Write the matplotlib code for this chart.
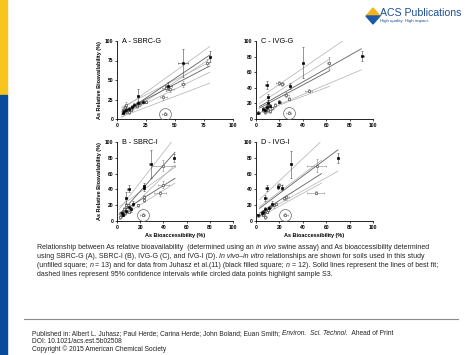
import matplotlib
matplotlib.use("Agg")
import matplotlib.pyplot as plt
from matplotlib.patches import Polygon, Rectangle

plt.rcParams['font.family'] = ['Liberation Sans', 'DejaVu Sans']

# ---- data ----
# panel A - SBRC-G
a_fill_x = [57, 80, 44, 18, 18, 22, 10, 5, 13, 8, 15, 6]
a_fill_y = [72, 80, 42, 30, 20, 22, 13, 8, 15, 12, 18, 10]
a_fill_xe = [4, 1, 3, 1, 2, 2, 1, 1, 1, 1, 1, 1]
a_fill_ye = [18, 7, 5, 8, 3, 2, 3, 2, 3, 4, 2, 2]
a_open_x = [42, 46, 57, 78, 40, 17, 7, 8, 12, 20, 5, 25, 10]
a_open_y = [40, 38, 45, 72, 28, 17, 15, 18, 12, 20, 12, 22, 9]
a_open_xe = [3, 3, 2, 1, 3, 1, 1, 1, 1, 1, 1, 1, 1]
a_open_ye = [4, 4, 4, 5, 3, 3, 3, 4, 2, 3, 3, 2, 2]
a_s3 = (41, 7)
a_fit_lines = [(4, 80, 6, 82), (4, 80, 9, 68)]
a_ci_lines = [(4, 80, 12, 93), (4, 80, 2, 77), (4, 80, 15, 73),
              (4, 80, 5, 60), (4, 80, 3, 46)]

# panel B - SBRC-I
b_fill_x = [29, 49, 23, 23, 10, 8, 14, 5, 8, 10, 12, 4]
b_fill_y = [72, 80, 44, 42, 41, 29, 22, 8, 13, 18, 15, 10]
b_fill_xe = [1, 1, 1, 1, 1, 1, 1, 1, 1, 1, 1, 1]
b_fill_ye = [18, 5, 4, 4, 4, 8, 3, 2, 3, 3, 3, 2]
b_open_x = [40, 40, 37, 23, 23, 6, 5, 8, 3, 4, 10, 18, 7]
b_open_y = [70, 46, 35, 30, 27, 15, 12, 20, 5, 8, 12, 20, 10]
b_open_xe = [10, 5, 5, 1, 1, 1, 1, 1, 1, 1, 1, 1, 1]
b_open_ye = [7, 4, 3, 3, 3, 3, 2, 3, 2, 2, 2, 2, 2]
b_s3 = (22, 8)
b_fit_lines = [(2, 50, 8, 87), (2, 50, 10, 54)]
b_ci_lines = [(2, 47, 15, 100), (2, 50, 2, 71), (2, 50, 18, 68),
              (2, 50, 4, 48)]

# panel C - IVG-G
c_fill_x = [40, 91, 29, 9, 10, 10, 20, 2, 8, 9, 12, 6]
c_fill_y = [72, 81, 42, 44, 28, 21, 22, 8, 12, 15, 17, 13]
c_fill_xe = [1, 1, 1, 1, 1, 1, 1, 1, 1, 1, 1, 1]
c_fill_ye = [20, 6, 4, 5, 4, 3, 2, 2, 3, 3, 2, 2]
c_open_x = [62, 20, 22, 45, 26, 14, 8, 10, 12, 16, 6, 9, 28]
c_open_y = [72, 46, 45, 36, 31, 14, 9, 12, 10, 18, 11, 16, 26]
c_open_xe = [1, 3, 2, 3, 2, 1, 1, 1, 1, 1, 1, 1, 1]
c_open_ye = [8, 3, 3, 2, 3, 2, 2, 3, 2, 3, 2, 2, 2]
c_s3 = (28, 8)
c_fit_lines = [(3, 90, 16, 90), (3, 63, 14, 62)]
c_ci_lines = [(3, 74, 27, 100), (3, 90, 8, 63), (3, 63, 20, 77),
              (3, 63, 8, 42)]

# panel D - IVG-I
d_fill_x = [30, 70, 19, 22, 9, 8, 2, 6, 8, 11, 14, 5]
d_fill_y = [72, 80, 43, 42, 42, 29, 7, 12, 15, 17, 22, 10]
d_fill_xe = [1, 1, 1, 1, 1, 1, 1, 1, 1, 1, 1, 1]
d_fill_ye = [17, 6, 3, 3, 4, 4, 2, 2, 3, 2, 3, 2]
d_open_x = [52, 51, 26, 20, 24, 15, 10, 7, 12, 9, 6, 17, 8]
d_open_y = [70, 36, 30, 45, 29, 20, 14, 10, 18, 12, 8, 22, 5]
d_open_xe = [8, 7, 2, 2, 1, 1, 1, 1, 1, 1, 1, 1, 1]
d_open_ye = [8, 2, 3, 3, 2, 3, 2, 2, 2, 2, 2, 2, 2]
d_s3 = (25, 8)
d_fit_lines = [(3, 70, 16, 90), (3, 56, 10, 60)]
d_ci_lines = [(3, 55, 27, 100), (3, 70, 8, 63), (3, 56, 18, 77),
              (3, 56, 5, 48)]

titles = ["A - SBRC-G", "B - SBRC-I", "C - IVG-G", "D - IVG-I"]
a_ticks = [0, 25, 50, 75, 100]
other_ticks = [0, 20, 40, 60, 80, 100]

# text runs: (text, italic?)
caption_lines = [
    [("Relationship between As relative bioavailability  (determined using an ", 0), ("in vivo", 1),
     (" swine assay) and As bioaccessibility determined", 0)],
    [("using SBRC-G (A), SBRC-I (B), IVG-G (C), and IVG-I (D). ", 0), ("In vivo–in vitro", 1),
     (" relationships are shown for soils used in this study", 0)],
    [("(unfilled square; ", 0), ("n", 1), (" = 13) and for data from Juhasz et al.(11) (black filled square; ", 0),
     ("n", 1), (" = 12). Solid lines represent the lines of best fit;", 0)],
    [("dashed lines represent 95% confidence intervals while circled data points highlight sample S3.", 0)],
]
cite_lines = [
    [("Published in: Albert L. Juhasz; Paul Herde; Carina Herde; John Boland; Euan Smith; ", 0),
     ("Environ.  Sci. Technol.", 1), ("  Ahead of Print", 0)],
    [("DOI: 10.1021/acs.est.5b02508", 0)],
    [("Copyright © 2015 American Chemical Society", 0)],
]

# ---- figure ----
W, H = 474, 355
fig = plt.figure(figsize=(W / 100, H / 100), dpi=100)
renderer = fig.canvas.get_renderer()


def px_axes(x0, y0, x1, y1):
    return fig.add_axes([x0 / W, 1 - y1 / H, (x1 - x0) / W, (y1 - y0) / H])


def draw_runs(x_px, y_px, runs, size):
    x = x_px
    for txt, ital in runs:
        t = fig.text(x / W, 1 - y_px / H, txt, fontsize=size, va="baseline", ha="left",
                     color="#222222", style="italic" if ital else "normal")
        x += t.get_window_extent(renderer).width


def draw_panel(ax, fx, fy, fxe, fye, ox, oy, oxe, oye, s3, fits, cis, ticks, title):
    for x0, x1, y0, y1 in cis:
        ax.plot([x0, x1], [y0, y1], color="#b0b0b0", lw=0.5, zorder=1)
    for x0, x1, y0, y1 in fits:
        ax.plot([x0, x1], [y0, y1], color="#606060", lw=0.6, zorder=1)
    ax.errorbar(ox, oy, xerr=oxe, yerr=oye, fmt="s", ms=2.0, mfc="white",
                mec="#333333", mew=0.4, ecolor="#888888", elinewidth=0.4,
                capsize=0.7, capthick=0.4, zorder=3)
    ax.errorbar(fx, fy, xerr=fxe, yerr=fye, fmt="s", ms=2.0, mfc="black",
                mec="black", mew=0.4, ecolor="#444444", elinewidth=0.4,
                capsize=0.7, capthick=0.4, zorder=4)
    ax.errorbar([s3[0]], [s3[1]], xerr=[2], yerr=[2], fmt="s", ms=2.0,
                mfc="white", mec="#333333", mew=0.4, ecolor="#888888",
                elinewidth=0.4, capsize=0.7, zorder=4)
    ax.plot([s3[0]], [s3[1]], "o", ms=8.5, mfc="none", mec="#666666", mew=0.5, zorder=4)
    ax.set_xlim(0, 100)
    ax.set_ylim(0, 100)
    ax.set_xticks(ticks)
    ax.set_yticks(ticks)
    ax.tick_params(labelsize=3.6, length=1.5, width=0.5, pad=1.2)
    for lab in ax.get_xticklabels() + ax.get_yticklabels():
        lab.set_fontweight("bold")
    for s in ["top", "right"]:
        ax.spines[s].set_visible(False)
    for s in ["left", "bottom"]:
        ax.spines[s].set_linewidth(0.6)
    ax.text(0.04, 0.99, title, transform=ax.transAxes, fontsize=5.2,
            va="center", ha="left")


axA = px_axes(117, 41, 233, 119)
axC = px_axes(256, 41, 373, 119)
axB = px_axes(117, 142, 233, 221)
axD = px_axes(256, 142, 373, 221)

draw_panel(axA, a_fill_x, a_fill_y, a_fill_xe, a_fill_ye, a_open_x, a_open_y,
           a_open_xe, a_open_ye, a_s3, a_fit_lines, a_ci_lines, a_ticks, titles[0])
draw_panel(axB, b_fill_x, b_fill_y, b_fill_xe, b_fill_ye, b_open_x, b_open_y,
           b_open_xe, b_open_ye, b_s3, b_fit_lines, b_ci_lines, other_ticks, titles[1])
draw_panel(axC, c_fill_x, c_fill_y, c_fill_xe, c_fill_ye, c_open_x, c_open_y,
           c_open_xe, c_open_ye, c_s3, c_fit_lines, c_ci_lines, other_ticks, titles[2])
draw_panel(axD, d_fill_x, d_fill_y, d_fill_xe, d_fill_ye, d_open_x, d_open_y,
           d_open_xe, d_open_ye, d_s3, d_fit_lines, d_ci_lines, other_ticks, titles[3])

for ax in [axA, axB]:
    ax.set_ylabel("As Relative Bioavailability (%)", fontsize=4, fontweight="bold", labelpad=2)
for ax in [axB, axD]:
    ax.set_xlabel("As Bioaccessibility (%)", fontsize=4, fontweight="bold", labelpad=2)

# slide decorations
fig.patches.append(Rectangle((0, 1 - 95 / H), 7 / W, 95 / H, transform=fig.transFigure,
                             color="#f7c51e", zorder=0))
fig.patches.append(Rectangle((0, 0), 7 / W, 1 - 95 / H, transform=fig.transFigure,
                             color="#0a4c9c", zorder=0))
fig.lines.append(plt.Line2D([24 / W, 458 / W], [1 - 319 / H, 1 - 319 / H],
                            transform=fig.transFigure, color="#8c8c8c", lw=0.8))

# ACS logo
fig.patches.append(Polygon([(366 / W, 1 - 16 / H), (373 / W, 1 - 8 / H), (380 / W, 1 - 16 / H)],
                           closed=True, transform=fig.transFigure, color="#f5b31a"))
fig.patches.append(Polygon([(366 / W, 1 - 16 / H), (373 / W, 1 - 24 / H), (380 / W, 1 - 16 / H)],
                           closed=True, transform=fig.transFigure, color="#1c5aa6"))
fig.text(380 / W, 1 - 13 / H, "ACS Publications", fontsize=7.6, color="#1c4f93",
         va="center", ha="left")
fig.text(380 / W, 1 - 21 / H, "High quality. High impact.", fontsize=3.2, color="#1c4f93",
         va="center", ha="left")

for i, runs in enumerate(caption_lines):
    draw_runs(37, 249 + 9 * i, runs, 5.05)
for i, runs in enumerate(cite_lines):
    draw_runs(32, 335 + 8 * i, runs, 4.75)

fig.savefig("out.png", dpi=100)
